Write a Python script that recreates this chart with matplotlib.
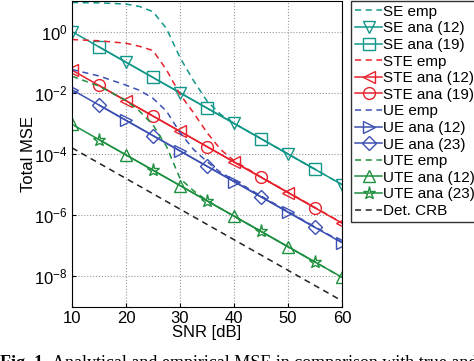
import numpy as np
import matplotlib
matplotlib.use('Agg')
import matplotlib.pyplot as plt

plt.rcParams['font.family'] = ['Liberation Sans', 'DejaVu Sans']
plt.rcParams['mathtext.fontset'] = 'custom'
plt.rcParams['mathtext.rm'] = 'Liberation Sans'
plt.rcParams['mathtext.it'] = 'Liberation Sans:italic'

# SNR grids
snr_emp = [10, 15, 20, 22.5, 25, 27.5, 30, 32.5, 35, 37.5, 40, 45, 50, 55, 60]
snr_a = [10, 20, 30, 40, 50, 60]
snr_b = [15, 25, 35, 45, 55]

# log10 of MSE
se_emp = [0.95, 0.94, 0.9, 0.82, 0.65, 0.1, -0.85, -1.6, -2.27, -2.7, -3.0, -3.5, -4.0, -4.5, -5.0]
se_ana12 = [0.0, -1.0, -2.0, -3.0, -4.0, -5.0]
se_ana19 = [-0.5, -1.5, -2.5, -3.5, -4.5]

ste_emp = [-0.26, -0.3, -0.38, -0.48, -0.62, -1.25, -2.05, -2.65, -3.3, -3.85, -4.22, -4.75, -5.25, -5.75, -6.25]
ste_ana12 = [-1.26, -2.26, -3.26, -4.26, -5.26, -6.26]
ste_ana19 = [-1.76, -2.76, -3.76, -4.76, -5.76]

ue_emp = [-1.24, -1.45, -1.75, -1.92, -2.18, -2.6, -3.3, -3.85, -4.25, -4.6, -4.85, -5.37, -5.88, -6.38, -6.88]
ue_ana12 = [-1.9, -2.9, -3.9, -4.9, -5.9, -6.9]
ue_ana23 = [-2.4, -3.4, -4.4, -5.4, -6.4]

ute_emp = [-1.46, -1.78, -2.25, -2.6, -3.05, -3.75, -4.8, -5.2, -5.52, -5.78, -6.03, -6.53, -7.03, -7.53, -8.03]
ute_ana12 = [-3.03, -4.03, -5.03, -6.03, -7.03, -8.03]
ute_ana23 = [-3.53, -4.53, -5.53, -6.53, -7.53]

crb_snr = [10, 60]
crb = [-3.8, -8.8]

teal = '#12978a'
red = '#e8222c'
blue = '#3c50b4'
green = '#1f9040'

fig = plt.figure(figsize=(4.74, 3.61), dpi=100)
ax = fig.add_axes([72 / 474, 1 - 307 / 361, 270 / 474, 306 / 361])

dash = (0, (4, 3))
ms = 8.5
lw = 1.1


def p(x, y):
    return np.array(x), 10 ** np.array(y)


ax.plot(*p(snr_emp, se_emp), color=teal, ls=dash, lw=lw, label='SE emp')
ax.plot(*p(snr_a, se_ana12), color=teal, marker='v', ms=ms, mfc='none', lw=lw, label='SE ana (12)')
ax.plot(*p(snr_b, se_ana19), color=teal, marker='s', ms=ms, mfc='none', lw=lw, label='SE ana (19)')
ax.plot(*p(snr_emp, ste_emp), color=red, ls=dash, lw=lw, label='STE emp')
ax.plot(*p(snr_a, ste_ana12), color=red, marker='<', ms=ms, mfc='none', lw=lw, label='STE ana (12)')
ax.plot(*p(snr_b, ste_ana19), color=red, marker='o', ms=ms, mfc='none', lw=lw, label='STE ana (19)')
ax.plot(*p(snr_emp, ue_emp), color=blue, ls=dash, lw=lw, label='UE emp')
ax.plot(*p(snr_a, ue_ana12), color=blue, marker='>', ms=ms, mfc='none', lw=lw, label='UE ana (12)')
ax.plot(*p(snr_b, ue_ana23), color=blue, marker='D', ms=ms - 1.5, mfc='none', lw=lw, label='UE ana (23)')
ax.plot(*p(snr_emp, ute_emp), color=green, ls=dash, lw=lw, label='UTE emp')
ax.plot(*p(snr_a, ute_ana12), color=green, marker='^', ms=ms, mfc='none', lw=lw, label='UTE ana (12)')
ax.plot(*p(snr_b, ute_ana23), color=green, marker='*', ms=ms + 1, mfc='none', lw=lw, label='UTE ana (23)')
ax.plot(*p(crb_snr, crb), color='#222222', ls=dash, lw=lw, label='Det. CRB')

ax.set_yscale('log')
ax.set_xlim(10, 60)
ax.set_ylim(1e-9, 1e1)
ax.set_xticks([10, 20, 30, 40, 50, 60])
ax.set_yticks([1e0, 1e-2, 1e-4, 1e-6, 1e-8])
ax.yaxis.set_minor_locator(matplotlib.ticker.NullLocator())
ax.tick_params(direction='in', labelsize=12, length=3, pad=3)
ax.grid(True, ls=':', color='#999999', lw=0.8)
ax.set_xlabel('SNR [dB]', fontsize=12, labelpad=-1)
ax.set_ylabel('Total MSE', fontsize=12, labelpad=-1)

fig.legend(loc='upper left', bbox_to_anchor=(351 / 474, 1 - 1 / 361), fontsize=11,
           handlelength=1.8, handletextpad=0.05, labelspacing=0.17, borderpad=0.25,
           borderaxespad=0.0, fancybox=False, edgecolor='#333333', framealpha=1)

fig.text(0.0, 6 / 361, 'Fig. 1.', fontsize=13, fontweight='bold', family='Liberation Serif', va='top')
fig.text(52 / 474, 6 / 361, 'Analytical and empirical MSE in comparison with true and', fontsize=13,
         family='Liberation Serif', va='top')

fig.savefig('out.png', dpi=100)
